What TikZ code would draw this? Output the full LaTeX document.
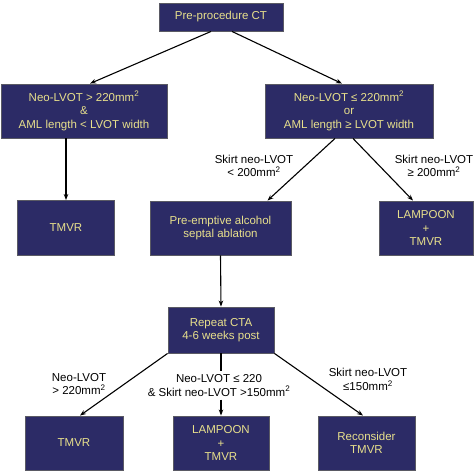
\documentclass[tikz,border=0pt]{standalone}
\usepackage{fontspec}
\setmainfont{Liberation Sans}
\usetikzlibrary{arrows.meta}
\definecolor{boxfill}{RGB}{44,43,102}
\definecolor{boxtext}{RGB}{232,224,140}
\definecolor{boxline}{RGB}{90,90,100}
\begin{document}
\begin{tikzpicture}[x=1pt,y=-1pt,
  every node/.style={font=\fontsize{11.5}{13.5}\selectfont, align=center, inner sep=1pt},
  box/.style={draw=boxline, line width=0.9pt, fill=boxfill, text=boxtext, minimum height=54pt},
  lbl/.style={text=black},
  arr/.style={-{Stealth[length=6pt,width=4.5pt]}, line width=1.1pt, black}]
\useasboundingbox (0,0) rectangle (474,474);
\node[box, minimum width=124pt, minimum height=28pt] (top) at (221,17) {Pre-procedure CT};
\node[box, minimum width=166pt] (nl) at (84,111) {Neo-LVOT > 220mm\textsuperscript{2}\\\&\\AML length < LVOT width};
\node[box, minimum width=168pt] (nr) at (349,111) {Neo-LVOT ≤ 220mm\textsuperscript{2}\\or\\AML length ≥ LVOT width};
\node[box, minimum width=97pt, minimum height=55pt] (t1) at (66,228) {TMVR};
\node[box, minimum width=141pt] (pre) at (220.5,228) {Pre-emptive alcohol\\septal ablation};
\node[box, minimum width=94pt] (lamp1) at (426,228) {LAMPOON\\+\\TMVR};
\node[box, minimum width=106pt, minimum height=46pt] (rep) at (221,330) {Repeat CTA\\4-6 weeks post};
\node[box, minimum width=98pt] (t2) at (74,443) {TMVR};
\node[box, minimum width=96pt] (lamp2) at (221,443) {LAMPOON\\+\\TMVR};
\node[box, minimum width=97pt] (recon) at (366.5,443) {Reconsider\\TMVR};

\node[lbl] (l1) at (254,166) {Skirt neo-LVOT\\< 200mm\textsuperscript{2}};
\node[lbl] (l2) at (434,166) {Skirt neo-LVOT\\≥ 200mm\textsuperscript{2}};
\node[lbl] (l3) at (79,384) {Neo-LVOT\\> 220mm\textsuperscript{2}};
\node[lbl, inner sep=3pt] (l4) at (219,385.5) {Neo-LVOT ≤ 220\\\& Skirt neo-LVOT >150mm\textsuperscript{2}};
\node[lbl] (l5) at (368,379.5) {Skirt neo-LVOT\\≤150mm\textsuperscript{2}};

\draw[arr] ([xshift=-10pt]top.south) -- ([xshift=6pt]nl.north);
\draw[arr] ([xshift=11pt]top.south) -- ([xshift=-7pt]nr.north);
\draw[arr] (t1.north |- nl.south) -- (t1.north);
\draw[arr] ([xshift=-14pt]nr.south) -- ([xshift=47pt]pre.north);
\draw[arr] ([xshift=4pt]nr.south) -- ([xshift=-13pt]lamp1.north);
\draw[arr] (pre.south) -- (rep.north);
\draw[arr] (rep.south west) -- ([xshift=6pt]t2.north);
\draw[arr] (rep.south east) -- ([xshift=-3.5pt]recon.north);
\draw[line width=1.1pt] (rep.south) -- (rep.south |- l4.north);
\draw[arr] (lamp2.north |- l4.south) -- (lamp2.north);
\end{tikzpicture}
\end{document}
